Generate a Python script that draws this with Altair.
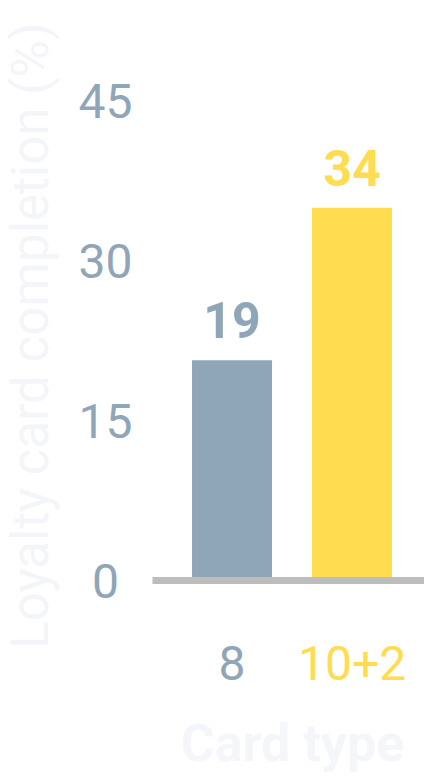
import altair as alt
import pandas as pd

card_types = ["8", "10+2"]
completion = [20.6, 34.9]
value_labels = ["19", "34"]
bar_colors = ["#8fa5b8", "#ffdc50"]
y_ticks = [0, 15, 30, 45]

df = pd.DataFrame({
    "card": card_types,
    "completion": completion,
    "label": value_labels,
    "color": bar_colors,
})

x = alt.X(
    "card:N",
    sort=card_types,
    scale=alt.Scale(paddingInner=1 / 3, paddingOuter=0.3, align=0.556),
    axis=alt.Axis(
        title="Card type",
        labelAngle=0,
        labelFont="Roboto",
        labelFontSize=48,
        labelColor={"expr": "datum.value == '8' ? '#8fa5b8' : '#ffdc50'"},
        labelPadding=61,
        ticks=False,
        tickSize=0,
        domainColor="#bdbdbd",
        domainWidth=7,
        zindex=1,
        titleFont="Roboto",
        titleFontSize=52,
        titleFontWeight="bold",
        titleColor="#f4f6f9",
        titleX=140,
        titleY=180,
        titleAlign="center",
        titleBaseline="alphabetic",
    ),
)

y = alt.Y(
    "completion:Q",
    scale=alt.Scale(domain=[0, 45], nice=False),
    axis=alt.Axis(
        values=y_ticks,
        title="Loyalty card completion (%)",
        labelFont="Roboto",
        labelFontSize=48,
        labelColor="#8fa5b8",
        labelAlign="center",
        labelBaseline="middle",
        labelPadding=47,
        labelOffset=3,
        ticks=False,
        tickSize=0,
        domain=False,
        grid=False,
        titleFont="Roboto",
        titleFontSize=51,
        titleFontWeight="normal",
        titleColor="#f3f5f8",
        titleX=-120,
        titleY=235,
        titleAngle=270,
        titleAlign="center",
        titleBaseline="middle",
    ),
)

bars = alt.Chart(df).mark_bar().encode(
    x=x,
    y=y,
    color=alt.Color("color:N", scale=None),
)

texts = alt.Chart(df).mark_text(
    font="Roboto", fontSize=50, fontWeight="bold", baseline="alphabetic", dy=-22
).encode(
    x=alt.X("card:N", sort=card_types),
    y=alt.Y("completion:Q"),
    text="label:N",
    color=alt.Color("color:N", scale=None),
)

chart = (
    alt.layer(bars, texts)
    .properties(
        width=272,
        height=480,
        autosize="none",
        padding={"left": 144, "top": 92, "right": 0, "bottom": 192},
        background="white",
    )
    .configure_view(stroke=None)
)

chart.save("out.html", embed_options={"renderer": "svg", "actions": False})
